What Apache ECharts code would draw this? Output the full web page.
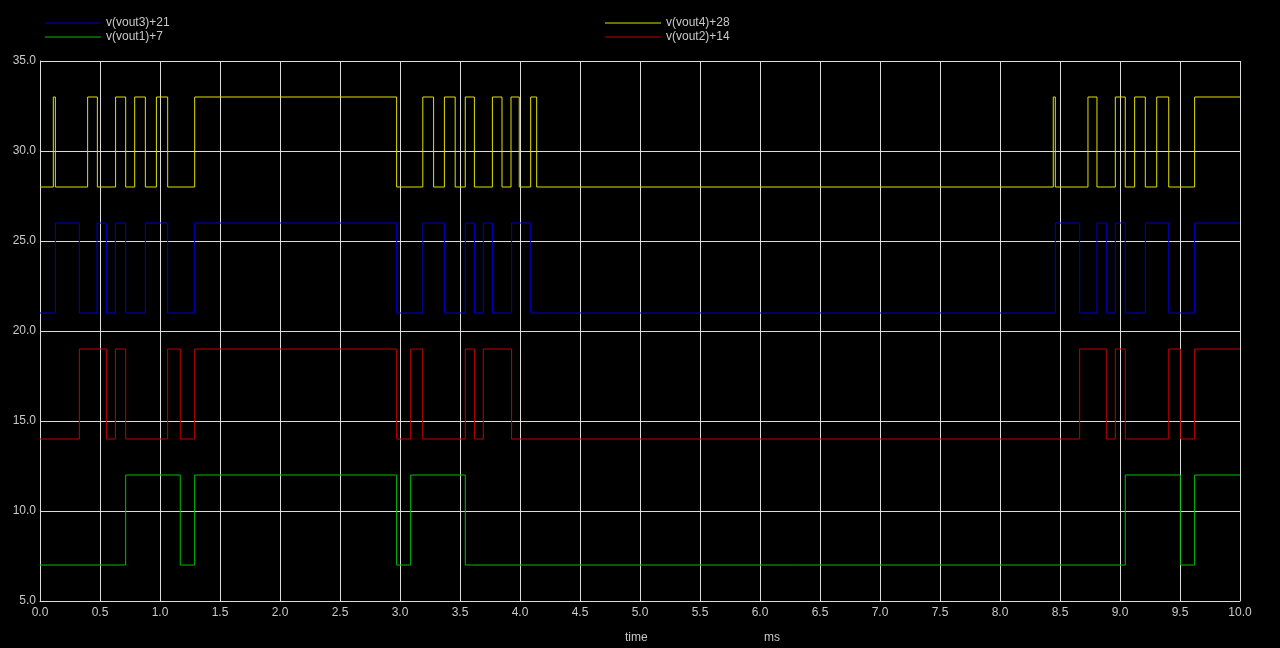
<!DOCTYPE html>
<html><head><meta charset="utf-8">
<script src="https://cdn.jsdelivr.net/npm/echarts@6/dist/echarts.min.js"></script>
<style>html,body{margin:0;background:#000}#c{width:1280px;height:648px}</style>
</head><body><div id="c"></div>
<script>
const names = ['v(vout3)+21','v(vout1)+7','v(vout4)+28','v(vout2)+14'];
const lows = [21, 7, 28, 14];
const highs = [26, 12, 33, 19];
const xTicks = [0,0.5,1,1.5,2,2.5,3,3.5,4,4.5,5,5.5,6,6.5,7,7.5,8,8.5,9,9.5,10];
const edgesV3 = [0.128,0.328,0.475,0.553,0.628,0.714,0.878,1.064,1.289,2.972,3.19,3.37,3.544,3.62,3.694,3.77,3.93,4.089,8.461,8.664,8.808,8.889,8.961,9.044,9.211,9.406,9.622];
const edgesV1 = [0.714,1.169,1.289,2.972,3.089,3.544,9.044,9.503,9.622];
const edgesV4 = [0.111,0.128,0.397,0.478,0.63,0.714,0.789,0.878,0.97,1.064,1.289,2.972,3.19,3.28,3.37,3.46,3.544,3.62,3.77,3.85,3.925,3.994,4.089,4.139,8.444,8.461,8.733,8.808,8.961,9.044,9.122,9.211,9.306,9.406,9.622];
const edgesV2 = [0.328,0.553,0.628,0.714,1.064,1.169,1.289,2.972,3.089,3.189,3.544,3.62,3.694,3.93,8.664,8.886,8.961,9.044,9.406,9.503,9.622];
const edges = [edgesV3, edgesV1, edgesV4, edgesV2];
const colors = ['#0000c8','#00c000','#e0e000','#c00000'];
function build(e, lo, hi){
  const pts=[[0,lo]]; let v=lo;
  e.forEach(t=>{ v = (v===lo)?hi:lo; pts.push([t,v]); });
  pts.push([10,v]); return pts;
}
const chart = echarts.init(document.getElementById('c'));
const txt = {color:'#c8c8c8', fontSize:12, fontFamily:'Liberation Sans'};
chart.setOption({
  backgroundColor:'#000',
  animation:false,
  legend:[
    {data:[names[0],names[1]], left:40, top:12, orient:'vertical', itemGap:2, itemWidth:56, itemHeight:10, textStyle:txt, icon:'path://M0,5L56,5L56,6L0,6Z'},
    {data:[names[2],names[3]], left:600, top:12, orient:'vertical', itemGap:2, itemWidth:56, itemHeight:10, textStyle:txt, icon:'path://M0,5L56,5L56,6L0,6Z'}
  ],
  grid:{left:40,right:40,top:61,bottom:47},
  xAxis:{type:'value',min:0,max:10,interval:0.5,
    axisLabel:Object.assign({formatter:v=>v.toFixed(1),margin:6},txt),
    axisLine:{lineStyle:{color:'#ddd'}},axisTick:{show:false},
    splitLine:{lineStyle:{color:'#dcdcdc',width:1}}},
  yAxis:{type:'value',min:5,max:35,interval:5,
    axisLabel:Object.assign({formatter:v=>v.toFixed(1),margin:4},txt),
    axisLine:{show:true,lineStyle:{color:'#ddd'}},axisTick:{show:false},
    splitLine:{lineStyle:{color:'#dcdcdc',width:1}}},
  graphic:[
    {type:'text',left:625,top:632,style:{text:'time',fill:'#c8c8c8',font:'12px Liberation Sans'}},
    {type:'text',left:764,top:632,style:{text:'ms',fill:'#c8c8c8',font:'12px Liberation Sans'}}],
  series: names.map((n,i)=>({name:n,type:'line',showSymbol:false,step:'end',
    data:build(edges[i],lows[i],highs[i]),
    lineStyle:{color:colors[i],width:1},itemStyle:{color:colors[i]}}))
});
</script></body></html>
